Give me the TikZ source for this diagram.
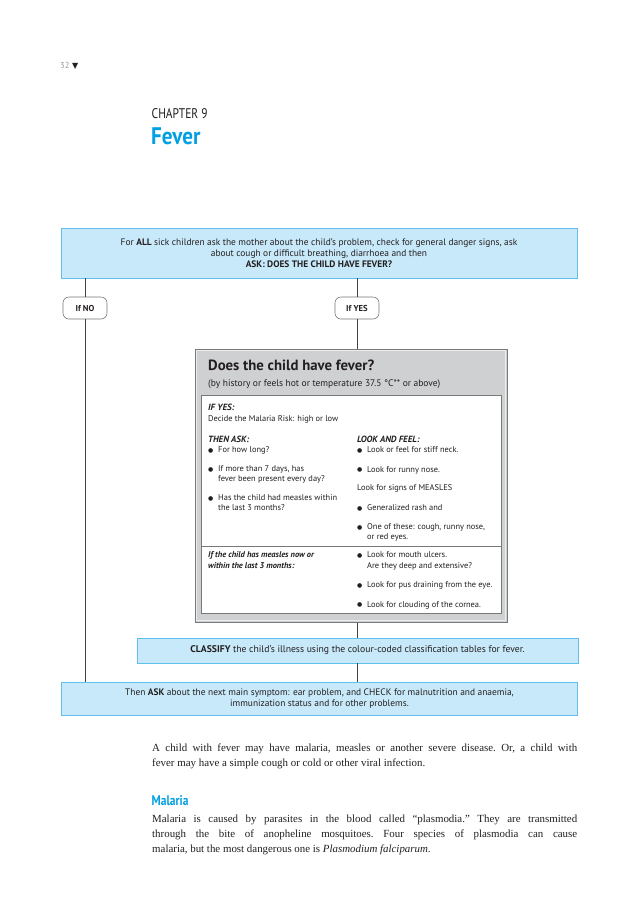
\documentclass[tikz,border=0pt]{standalone}
\usepackage{fontspec}
\setmainfont{Liberation Serif}
\newfontfamily\myr{PT Sans}
\newfontfamily\myrc[FakeStretch=0.82]{PT Sans}
\newfontfamily\myrt[FakeStretch=0.88]{PT Sans}
\newfontfamily\djv{DejaVu Sans}
\definecolor{lblue}{RGB}{200,233,249}
\definecolor{bblue}{RGB}{95,192,236}
\definecolor{tblue}{RGB}{0,160,226}
\definecolor{gfill}{RGB}{207,208,210}
\definecolor{gline}{RGB}{120,121,123}
\definecolor{ink}{RGB}{35,31,32}
\newcommand\bulx{\makebox[10pt][l]{\djv\fontsize{6}{6}\selectfont\raisebox{0.2pt}{●}}}
\begin{document}
\begin{tikzpicture}[x=1pt,y=-1pt,
  txt/.style={inner sep=0pt,text=ink,font=\myr\fontsize{8.4}{10}\selectfont,anchor=base west},
  hdr/.style={txt,font=\myr\fontsize{9}{10}\selectfont\bfseries\itshape},
  bluebox/.style={draw=bblue,line width=0.8pt,fill=lblue,inner sep=0pt,align=center,text=ink,font=\myr\fontsize{9.4}{11}\selectfont},
  pill/.style={draw=gline,line width=0.6pt,fill=white,rounded corners=6pt,minimum width=44pt,minimum height=22pt,inner sep=0pt,text=ink,font=\myr\fontsize{8.6}{9}\selectfont\bfseries},
  link/.style={draw=ink!85,line width=0.9pt},
  para/.style={inner sep=0pt,text=ink,text width=425pt,align=justify,font=\fontsize{10.9}{15}\selectfont\frenchspacing,anchor=north west}]
\useasboundingbox[fill=white] (0,0) rectangle (638,903);

% header
\node[inner sep=0pt,anchor=base west,text=gray!80,font=\myr\fontsize{8.6}{9}\selectfont] (pg) at (60,68.5) {32\hspace{2.5pt}{\djv\fontsize{8}{8}\selectfont\textcolor{ink}{▼}}};
\node[inner sep=0pt,anchor=base west,text=ink,font=\myrc\fontsize{14}{16}\selectfont] (chap) at (151.5,118) {CHAPTER 9};
\node[inner sep=0pt,anchor=base west,text=tblue,font=\myrt\fontsize{24}{26}\selectfont\bfseries] (title) at (151,144) {Fever};

% top box
\node[bluebox,minimum width=516pt,minimum height=50pt] (top) at (319,253)
 {For \textbf{ALL} sick children ask the mother about the child’s problem, check for general danger signs, ask\\
  about cough or difficult breathing, diarrhoea and then\\
  \textbf{ASK: DOES THE CHILD HAVE FEVER?}};

\node[pill] (ifno) at (85,308) {If NO};
\node[pill] (ifyes) at (357,308) {If YES};

% gray box
\node[draw=gline,line width=1pt,fill=gfill,minimum width=312pt,minimum height=273pt,inner sep=0pt] (gbox) at (351,485.5) {};
\draw[white!85!gray,line width=0.6pt] ([xshift=1.8pt,yshift=-1.8pt]gbox.north west) rectangle ([xshift=-1.8pt,yshift=1.8pt]gbox.south east);
\node[draw=gline,line width=1pt,fill=white,minimum width=300pt,minimum height=218pt,inner sep=0pt] (ibox) at (351,504) {};
\coordinate (dl) at (201,546);
\coordinate (dr) at (501,546);
\draw[gline,line width=1pt] (dl) -- (dr);

\node[txt,font=\myr\fontsize{14.8}{16}\selectfont\bfseries] (q) at (208,370) {Does the child have fever?};
\node[txt,font=\myr\fontsize{9.5}{10}\selectfont] (qs) at (208,386) {(by history or feels hot or temperature 37.5 °C** or above)};

\node[hdr] (ify) at (208,410) {IF YES:};
\node[txt] (dec) at (208,421) {Decide the Malaria Risk: high or low};
\node[hdr] (ta) at (208,442) {THEN ASK:};
\node[txt] (a1) at (208,452.5) {\bulx For how long?};
\node[txt] (a2) at (208,471.5) {\bulx If more than 7 days, has};
\node[txt] (a2b) at (218,481.5) {fever been present every day?};
\node[txt] (a3) at (208,500.5) {\bulx Has the child had measles within};
\node[txt] (a3b) at (218,510.5) {the last 3 months?};

\node[hdr] (lf) at (357,442) {LOOK AND FEEL:};
\node[txt] (b1) at (357,452.5) {\bulx Look or feel for stiff neck.};
\node[txt] (b2) at (357,472) {\bulx Look for runny nose.};
\node[txt] (b3) at (357,490.5) {Look for signs of MEASLES};
\node[txt] (b4) at (357,510.5) {\bulx Generalized rash and};
\node[txt] (b5) at (357,529.5) {\bulx One of these: cough, runny nose,};
\node[txt] (b5b) at (367,539.5) {or red eyes.};

\node[txt,font=\myr\fontsize{8.4}{10}\selectfont\bfseries\itshape] (m1) at (208,557.5) {If the child has measles now or};
\node[txt,font=\myr\fontsize{8.4}{10}\selectfont\bfseries\itshape] (m2) at (208,568) {within the last 3 months:};
\node[txt] (c1) at (357,557.5) {\bulx Look for mouth ulcers.};
\node[txt] (c1b) at (367,568) {Are they deep and extensive?};
\node[txt] (c2) at (357,587.5) {\bulx Look for pus draining from the eye.};
\node[txt] (c3) at (357,607) {\bulx Look for clouding of the cornea.};

% classify and next boxes
\node[bluebox,minimum width=441pt,minimum height=25pt,font=\myr\fontsize{9.7}{11}\selectfont] (cls) at (357.5,650.5)
 {\textbf{CLASSIFY} the child’s illness using the colour-coded classification tables for fever.};
\node[bluebox,minimum width=516pt,minimum height=32.5pt] (nxt) at (319.5,698.75)
 {Then \textbf{ASK} about the next main symptom: ear problem, and CHECK for malnutrition and anaemia,\\
  immunization status and for other problems.};

% connectors
\draw[link] (top.south -| ifno.north) -- (ifno.north);
\draw[link] (ifno.south) -- (ifno.south |- nxt.north);
\draw[link] (top.south -| ifyes.north) -- (ifyes.north);
\draw[link] (ifyes.south) -- (ifyes.south |- gbox.north);
\draw[link] (gbox.south -| ifyes.south) -- (cls.north -| ifyes.south);
\draw[link] (cls.south -| ifyes.south) -- (nxt.north -| ifyes.south);

% body text
\node[para] (p1) at (152,743.5) {A child with fever may have malaria, measles or another severe disease. Or, a child with\linebreak
fever may have a simple cough or cold or other viral infection.};
\node[inner sep=0pt,anchor=base west,text=tblue,font=\myrc\fontsize{14}{16}\selectfont\bfseries] (mal) at (151.5,805) {Malaria};
\node[para] (p2) at (152,814.5) {Malaria is caused by parasites in the blood called “plasmodia.” They are transmitted\linebreak
through the bite of anopheline mosquitoes. Four species of plasmodia can cause\linebreak
malaria, but the most dangerous one is \textit{Plasmodium falciparum}.};
\end{tikzpicture}
\end{document}
